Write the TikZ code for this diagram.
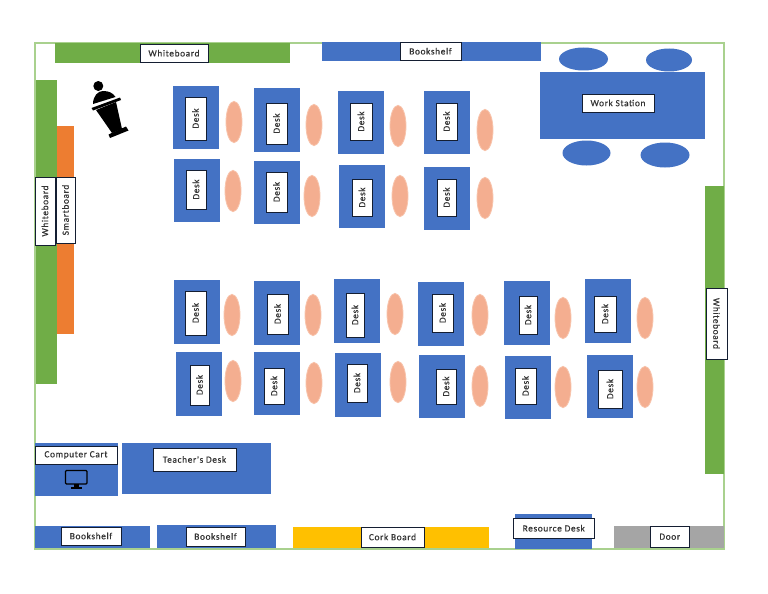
\documentclass[tikz,border=0pt]{standalone}
\usepackage{fontspec}
\setmainfont{Carlito}
\newfontfamily\lblfont[LetterSpace=7,FakeBold=0.5]{Carlito}
\definecolor{dblue}{HTML}{4472C4}
\definecolor{dgreen}{HTML}{70AD47}
\definecolor{dorange}{HTML}{ED7D31}
\definecolor{dyellow}{HTML}{FFC000}
\definecolor{dgray}{HTML}{A5A5A5}
\definecolor{dchairin}{HTML}{F4AE90}
\definecolor{dchairout}{HTML}{F8C4AC}
\definecolor{droom}{HTML}{A9D18E}
\definecolor{dedge}{HTML}{141E32}
\tikzset{
  x=1pt,y=-1pt,
  lbl/.style={draw=dedge,fill=white,line width=0.9pt,inner sep=0pt},
  lbltext/.style={font=\lblfont\fontsize{9.3}{10}\selectfont,text=black!80,inner sep=0pt},
  chairshape/.style={fill=dchairin,draw=dchairout,line width=0.8pt},
}
% label box: [rotation]{x1}{y1}{x2}{y2}{name}{text}
\newcommand{\lab}[7][0]{%
  \node[lbl,minimum width={(#4-#2)*1pt},minimum height={(#5-#3)*1pt}] (#6) at ({(#2+#4)/2},{(#3+#5)/2}) {};
  \node[lbltext,rotate=#1] (#6t) at (#6.center) {#7};
}
\newcommand{\desk}[9]{%
  \fill[dblue] (#1,#2) rectangle (#3,#4);
  \lab[90]{#5}{#6}{#7}{#8}{#9}{Desk}
}
\newcommand{\chair}[2]{\path[chairshape] (#1,#2) ellipse [x radius=8,y radius=20.7];}
\begin{document}
\begin{tikzpicture}
\useasboundingbox (0,0) rectangle (768,594);
\fill[white] (0,0) rectangle (768,594);
% room
\draw[droom,line width=1.2pt] (35,43) rectangle (724,549);
% boards
\fill[dgreen] (55,43) rectangle (290,63.5);
\lab{140}{44}{208}{62.5}{wbtop}{Whiteboard}
\fill[dblue] (322,42) rectangle (541,61.5);
\lab{400}{42.5}{461}{60}{bstop}{Bookshelf}
\fill[dgreen] (36,80) rectangle (57,384);
\fill[dorange] (57,126) rectangle (74,334);
\lab[90]{35}{177}{55}{245}{wbleft}{Whiteboard}
\lab[90]{56}{177}{75}{243}{sbleft}{Smartboard}
\fill[dgreen] (705,186) rectangle (724,474);
\lab[-90]{706}{288}{727}{359}{wbright}{Whiteboard}
% workstation
\fill[dblue] (540,72) rectangle (705,139);
\path[fill=dblue] (583.5,59) ellipse [x radius=24.5,y radius=11.5];
\path[fill=dblue] (669,60) ellipse [x radius=23,y radius=11.5];
\path[fill=dblue] (586.5,153) ellipse [x radius=24,y radius=12.5];
\path[fill=dblue] (665,155) ellipse [x radius=24.5,y radius=12.5];
\lab{582}{94}{654}{112}{ws}{Work Station}
% podium
\fill[black] (98.3,86) circle (5);
\fill[black] (93,104) .. controls (93,96) and (98,91) .. (103,91) .. controls (109,91) and (113,93) .. (115.5,97) -- cycle;
\fill[black] (91.5,108) -- (120,97.5) -- (121,100) -- (93,110.5) -- cycle;
\fill[black] (96,110) -- (116,102) -- (122,129) -- (112,133) -- cycle;
\fill[black] (108.5,134.5) -- (126,126.5) -- (128.5,130.5) -- (110,138) -- cycle;
% desks
\desk{173}{86}{219}{149}{185}{97}{206}{140}{d1}
\desk{254}{88}{300}{152}{266}{103}{287}{144}{d2}
\desk{338}{91}{384}{154}{350}{103}{372}{140}{d3}
\desk{424}{91}{470}{154}{436}{103}{457}{140}{d4}
\desk{174}{159}{220}{222}{186}{170}{206}{209}{d5}
\desk{254}{161}{300}{224}{266}{172}{287}{212}{d6}
\desk{339}{165}{385}{228}{352}{179}{372}{216}{d7}
\desk{424}{167}{470}{230}{437}{179}{456}{216}{d8}
\desk{174}{280}{220}{344}{185}{291}{206}{335}{d9}
\desk{254}{281}{300}{345}{267}{294}{288}{334}{d10}
\desk{334}{279}{380}{343}{346}{293}{364}{337}{d11}
\desk{418}{282}{464}{346}{432}{294}{453}{332}{d12}
\desk{504}{281}{550}{345}{519}{296}{537}{334}{d13}
\desk{585}{279}{631}{343}{594}{296}{616}{332}{d14}
\desk{176}{352}{222}{416}{190}{365}{209}{405}{d15}
\desk{254}{352}{300}{415}{264}{368}{284}{404}{d16}
\desk{335}{353}{381}{417}{347}{364}{367}{402}{d17}
\desk{419}{355}{465}{418}{436}{369}{456}{404}{d18}
\desk{505}{356}{551}{419}{515}{368}{536}{404}{d19}
\desk{587}{355}{633}{418}{598}{370}{622}{408}{d20}
% chairs
\chair{234}{122}\chair{314}{125}\chair{398}{126}\chair{485}{130}
\chair{233}{191}\chair{312}{196}\chair{400}{196}\chair{485}{198}
\chair{232}{315}\chair{313}{315}\chair{395}{314}\chair{480}{315}\chair{563}{318}\chair{645}{318}
\chair{233}{381}\chair{314}{383}\chair{398}{382}\chair{480}{386}\chair{563}{387}\chair{645}{387}
% bottom left
\fill[dblue] (35,443) rectangle (118,496);
\lab{35}{446}{117}{464}{cc}{Computer Cart}
\fill[dblue] (122,443) rectangle (271,494);
\lab{153}{448}{236}{471}{td}{Teacher's Desk}
% monitor
\draw[black,line width=1.3pt,rounded corners=1pt] (65.5,470.5) rectangle (87,484);
\fill[black] (74,484) rectangle (78.5,487);
\fill[black] (71,487) rectangle (81.5,489);
% bottom row
\fill[dblue] (35,526) rectangle (150,548);
\lab{61}{527}{121}{545}{bs1}{Bookshelf}
\fill[dblue] (157,525) rectangle (276,548);
\lab{186}{527}{245}{546}{bs2}{Bookshelf}
\fill[dyellow] (292.5,526.5) rectangle (489,548);
\lab{361}{527}{424}{547}{cork}{Cork Board}
\fill[dblue] (515,513.5) rectangle (592,549);
\lab{513.5}{518.5}{594}{538}{rd}{Resource Desk}
\fill[dgray] (614,525.5) rectangle (724,548);
\lab{650}{526.5}{689.5}{547}{door}{Door}
\end{tikzpicture}
\end{document}
